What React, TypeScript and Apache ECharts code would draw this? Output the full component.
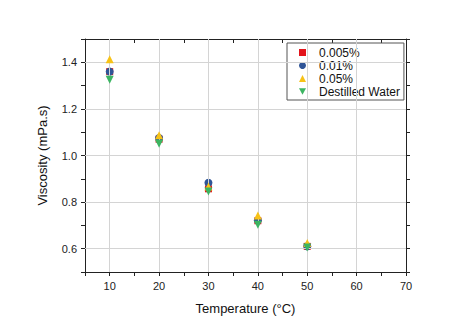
import React, { useEffect, useRef } from "react";
import * as echarts from "echarts";

const temperatures = [10, 20, 30, 40, 50];
const seriesNames = ["0.005%", "0.01%", "0.05%", "Destilled Water"];
const visc005 = [1.36, 1.07, 0.857, 0.72, 0.61];
const visc01 = [1.36, 1.075, 0.883, 0.722, 0.61];
const visc05 = [1.413, 1.087, 0.867, 0.742, 0.625];
const viscWater = [1.325, 1.05, 0.845, 0.703, 0.605];
const xGridTicks = [10, 20, 30, 40, 50, 60];
const yGridTicks = [0.6, 0.8, 1.0, 1.2, 1.4];

const colors = ["#e3141b", "#2f5597", "#f7c217", "#3cb562"];
const symbols = ["rect", "circle", "triangle", "path://M0,0 L10,0 L5,9 Z"];
const FONT = "'Liberation Sans', Arial, sans-serif";

export default function App() {
  const ref = useRef<HTMLDivElement>(null);
  useEffect(() => {
    if (!ref.current) return;
    const chart = echarts.init(ref.current, null, { renderer: "svg" });
    const values = [visc005, visc01, visc05, viscWater];
    const axisLine = { show: true, lineStyle: { color: "#222", width: 1 } };
    const series: any[] = values.map((vals, i) => ({
      name: seriesNames[i],
      type: "scatter",
      xAxisIndex: 0,
      yAxisIndex: 0,
      symbol: symbols[i],
      symbolSize: i === 0 ? 7 : 8,
      itemStyle: { color: colors[i], opacity: 1 },
      data: temperatures.map((t, j) => [t, vals[j]]),
      z: 3 + i,
    }));
    series.push({
      type: "scatter",
      data: [],
      xAxisIndex: 0,
      yAxisIndex: 0,
      silent: true,
      markLine: {
        silent: true,
        symbol: "none",
        label: { show: false },
        lineStyle: { color: "#d4d4d4", width: 1, type: "solid" },
        data: [
          ...xGridTicks.map((x) => ({ xAxis: x })),
          ...yGridTicks.map((y) => ({ yAxis: y })),
        ],
      },
      z: 1,
    });
    chart.setOption({
      animation: false,
      backgroundColor: "#fff",
      textStyle: { fontFamily: FONT },
      grid: { left: 85, right: 68, top: 39, bottom: 56 },
      legend: {
        orient: "vertical",
        left: 287,
        top: 43,
        width: 116,
        data: seriesNames,
        itemWidth: 7,
        itemHeight: 7,
        itemGap: 0,
        borderColor: "#555",
        borderWidth: 1,
        borderRadius: 0,
        padding: [3, 4, 2, 12],
        textStyle: { fontFamily: FONT, fontSize: 12, lineHeight: 13, color: "#111", padding: [0, 0, 0, 8] },
      },
      xAxis: [
        {
          type: "value",
          min: 5,
          max: 70,
          interval: 5,
          name: "Temperature (°C)",
          nameLocation: "middle",
          nameGap: 30,
          nameTextStyle: { fontFamily: FONT, fontSize: 13, color: "#111" },
          axisLine,
          axisTick: { show: true, length: 4, inside: false, lineStyle: { color: "#222" } },
          axisLabel: {
            fontFamily: FONT,
            fontSize: 11,
            color: "#222",
            margin: 8,
            formatter: (v: number) => (Math.round(v) % 10 === 0 ? String(v) : ""),
          },
          splitLine: { show: false },
        },
        {
          type: "value",
          position: "top",
          min: 5,
          max: 70,
          interval: 5,
          axisLine,
          axisTick: { show: true, length: 4, inside: true, lineStyle: { color: "#222" } },
          axisLabel: { show: false },
          splitLine: { show: false },
        },
      ],
      yAxis: [
        {
          type: "value",
          min: 0.5,
          max: 1.5,
          interval: 0.1,
          name: "Viscosity (mPa.s)",
          nameLocation: "middle",
          nameGap: 36,
          nameTextStyle: { fontFamily: FONT, fontSize: 13, color: "#111" },
          axisLine,
          axisTick: { show: true, length: 4, lineStyle: { color: "#222" } },
          axisLabel: {
            fontFamily: FONT,
            fontSize: 11,
            color: "#222",
            margin: 8,
            formatter: (v: number) => {
              const k = Math.round(v * 10);
              return k % 2 === 0 ? (k / 10).toFixed(1) : "";
            },
          },
          splitLine: { show: false },
        },
        {
          type: "value",
          position: "right",
          min: 0.5,
          max: 1.5,
          interval: 0.1,
          axisLine,
          axisTick: { show: true, length: 4, inside: false, lineStyle: { color: "#222" } },
          axisLabel: { show: false },
          splitLine: { show: false },
        },
      ],
      series,
    });
    return () => chart.dispose();
  }, []);
  return <div ref={ref} style={{ width: 474, height: 328, position: "absolute", left: 0, top: 0 }} />;
}
